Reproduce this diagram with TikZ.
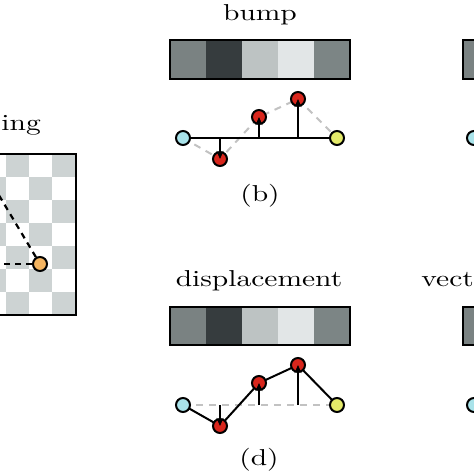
\documentclass[tikz,border=0pt]{standalone}
\usepackage{graphicx}
\usetikzlibrary{arrows.meta}
\definecolor{chk}{HTML}{CDD3D3}
\definecolor{ca}{HTML}{7A8282}
\definecolor{cb}{HTML}{363C3E}
\definecolor{cc}{HTML}{BDC3C3}
\definecolor{cd}{HTML}{E2E6E7}
\definecolor{ce}{HTML}{7C8585}
\definecolor{redd}{HTML}{D8261C}
\definecolor{cyand}{HTML}{A9E3EA}
\definecolor{yeld}{HTML}{E4EA6A}
\definecolor{orad}{HTML}{F4B460}
\definecolor{dgray}{HTML}{C2C2C2}
\newcommand{\wtxt}[1]{\scalebox{2.95}[2.3]{#1}}
\begin{document}
\begin{tikzpicture}[x=1pt,y=-1pt,
  lbl/.style={font=\normalsize, inner sep=0pt, anchor=base},
  dot/.style={circle, draw=black, line width=2pt, minimum size=14pt, inner sep=0pt},
  cyandot/.style={dot, fill=cyand},
  yeldot/.style={dot, fill=yeld},
  oradot/.style={dot, fill=orad},
  reddot/.style={dot, fill=redd, minimum size=14pt},
  bar/.style={draw=black, line width=2.2pt},
  guide/.style={dgray, line width=2pt, dash pattern=on 7pt off 6pt},
  solidline/.style={black, line width=2pt},
  pusher/.style={black, line width=2pt, -{Stealth[length=8pt,width=7pt]}, shorten >=0pt},
  blackdash/.style={black, line width=2.2pt, dash pattern=on 6pt off 5pt}
]
\clip (0,0) rectangle (474,474);
\fill[white] (0,0) rectangle (474,474);

% ---------- left panel (checkerboard) ----------
\begin{scope}
  \clip (0,154) rectangle (76,315);
  \foreach \i in {0,1,2,3}{
    \foreach \j in {0,...,6}{
      \pgfmathtruncatemacro\odd{mod(\i+\j,2)}
      \ifnum\odd=1
        \fill[chk] ({-17+23*\i},{154+23*\j}) rectangle +(23,23);
      \fi
    }
  }
\end{scope}
\draw[line width=2.2pt] (-5,154) rectangle (76,315);
\node[lbl, anchor=base east] (tl) at (41,130) {\wtxt{ing}};
\coordinate (L1) at (-20,163.5);
\coordinate (L2) at (-20,264);
\node[oradot] (o) at (40,264) {};
\draw[blackdash] (o) -- (L1);
\draw[blackdash] (o) -- (L2);

% ---------- panel (b) ----------
\node[lbl] (tb) at (260,20) {\wtxt{bump}};
\fill[ca] (170,40) rectangle (206,79);
\fill[cb] (206,40) rectangle (242,79);
\fill[cc] (242,40) rectangle (278,79);
\fill[cd] (278,40) rectangle (314,79);
\fill[ce] (314,40) rectangle (350,79);
\draw[bar] (170,40) rectangle (350,79);

\coordinate (pcb) at (183,138);
\coordinate (pyb) at (337,138);
\coordinate (pr1) at (220,159);
\coordinate (pr2) at (259,117);
\coordinate (pr3) at (298,99);
\coordinate (bb1) at (220,138);
\coordinate (bb2) at (259,138);
\coordinate (bb3) at (298,138);
\draw[guide] (pcb) -- (pr1) -- (pr2) -- (pr3) -- (pyb);
\draw[solidline] (pcb) -- (pyb);
\node[cyandot] (cb1) at (pcb) {};
\node[yeldot] (yb1) at (pyb) {};
\node[reddot] (rb1) at (pr1) {};
\node[reddot] (rb2) at (pr2) {};
\node[reddot] (rb3) at (pr3) {};
\draw[pusher] (bb1) -- (rb1.center);
\draw[pusher] (bb2) -- (rb2.center);
\draw[pusher] (bb3) -- (rb3.center);
\node[lbl] (capb) at (260,201) {\wtxt{(b)}};

% ---------- panel (d) ----------
\node[lbl] (td) at (259,286) {\wtxt{displacement}};
\fill[ca] (170,307) rectangle (206,345);
\fill[cb] (206,307) rectangle (242,345);
\fill[cc] (242,307) rectangle (278,345);
\fill[cd] (278,307) rectangle (314,345);
\fill[ce] (314,307) rectangle (350,345);
\draw[bar] (170,307) rectangle (350,345);

\coordinate (pcd) at (183,405);
\coordinate (pyd) at (337,405);
\coordinate (qr1) at (220,426);
\coordinate (qr2) at (259,383);
\coordinate (qr3) at (298,365);
\coordinate (bd1) at (220,405);
\coordinate (bd2) at (259,405);
\coordinate (bd3) at (298,405);
\draw[guide] (pcd) -- (pyd);
\draw[solidline] (pcd) -- (qr1) -- (qr2) -- (qr3) -- (pyd);
\node[cyandot] (cd1) at (pcd) {};
\node[yeldot] (yd1) at (pyd) {};
\node[reddot] (rd1) at (qr1) {};
\node[reddot] (rd2) at (qr2) {};
\node[reddot] (rd3) at (qr3) {};
\draw[pusher] (bd1) -- (rd1.center);
\draw[pusher] (bd2) -- (rd2.center);
\draw[pusher] (bd3) -- (rd3.center);
\node[lbl] (capd) at (259,465) {\wtxt{(d)}};

% ---------- right panel (cut) ----------
\fill[ca] (463,40) rectangle (520,79);
\draw[bar] (463,40) rectangle (520,79);
\node[cyandot] (cr1) at (474,138) {};
\node[lbl, anchor=base east] (tv) at (474,286) {\wtxt{vect}};
\fill[ca] (463,307) rectangle (520,345);
\draw[bar] (463,307) rectangle (520,345);
\node[cyandot] (cr2) at (474,405) {};
\end{tikzpicture}
\end{document}
